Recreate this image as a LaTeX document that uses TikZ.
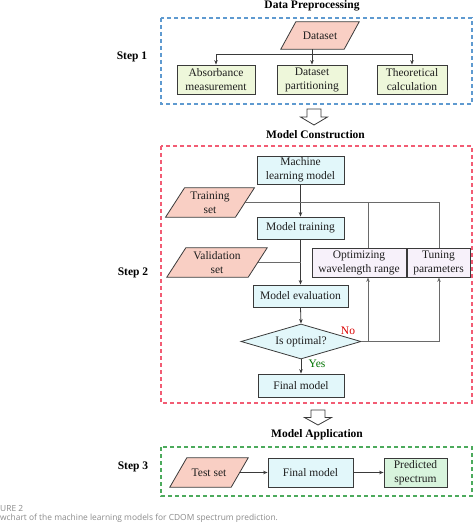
\documentclass[tikz,border=0pt]{standalone}
\usepackage{fontspec}
\setmainfont{Liberation Serif}
\newfontfamily\capfont{Open Sans}
\usetikzlibrary{shapes.geometric,backgrounds,arrows.meta}
\definecolor{linec}{HTML}{3A3A3A}
\definecolor{fbline}{HTML}{6A6A6A}
\definecolor{txt}{HTML}{1E1E1E}
\definecolor{dblue}{HTML}{5E9AD0}
\definecolor{dred}{HTML}{F25C74}
\definecolor{dgreen}{HTML}{4CAA5C}
\definecolor{fsalmon}{HTML}{F9CFC4}
\definecolor{fgreen}{HTML}{EEF7DA}
\definecolor{fcyan}{HTML}{E2F7FA}
\definecolor{flav}{HTML}{F7F1FA}
\definecolor{fmint}{HTML}{D8F4DD}
\definecolor{capgray}{HTML}{8A8A8A}
\newcommand\drawpara[3]{%
  \filldraw[fill=#3, draw=linec, line width=0.8pt]
    ([xshift=#2]#1.north west) -- ([xshift=#2]#1.north east) --
    ([xshift=-#2]#1.south east) -- ([xshift=-#2]#1.south west) -- cycle;}
\begin{document}
\begin{tikzpicture}[x=1pt,y=-1pt,
  font=\fontsize{11.5}{14}\selectfont,
  box/.style={draw=linec, line width=0.8pt, rectangle, inner sep=0pt, align=center, text=txt},
  paranode/.style={rectangle, inner sep=0pt, align=center, text=txt},
  title/.style={font=\fontsize{11.5}{14}\selectfont\bfseries, text=black},
  steplabel/.style={font=\fontsize{11.5}{14}\selectfont\bfseries, text=black},
  frame/.style={line width=1.2pt, dash pattern=on 4pt off 3pt},
  arr/.style={draw=linec, line width=0.8pt, -{Stealth[length=4.5pt,width=3.5pt]}},
  ln/.style={draw=linec, line width=0.8pt},
  fb/.style={draw=fbline, line width=0.8pt},
  fbarr/.style={draw=fbline, line width=0.8pt, -{Stealth[length=4.5pt,width=3.5pt]}},
  hollow/.style={draw=linec, line width=0.8pt, fill=white}
]
\useasboundingbox (0,0) rectangle (474,526);

% ---------- Step 1 ----------
\node[title] (t1) at (312,6) {Data Preprocessing};
\draw[frame, draw=dblue] (161,18) rectangle (472,104);
\node[steplabel] (s1) at (132,57) {Step 1};
\node[paranode, minimum width=63, minimum height=27] (ds) at (320,35.5) {Dataset};
\node[box, fill=fgreen, minimum width=78, minimum height=29] (abs) at (216,79.5) {Absorbance\\measurement};
\node[box, fill=fgreen, minimum width=70, minimum height=29] (part) at (312,79.5) {Dataset\\partitioning};
\node[box, fill=fgreen, minimum width=70, minimum height=29] (theo) at (412,79.5) {Theoretical\\calculation};
\begin{scope}[on background layer]
  \drawpara{ds}{7.5}{fsalmon}
\end{scope}
\coordinate (br) at (312,54);
\draw[ln] (br |- ds.south) -- (br);
\draw[arr] (br) -| (abs.north);
\draw[arr] (br) -- (part.north);
\draw[arr] (br) -| (theo.north);

% hollow arrow 1
\draw[hollow] (307,109) -- (321,109) -- (321,117) -- (327.5,117) -- (314,125) -- (300.5,117) -- (307,117) -- cycle;

% ---------- Step 2 ----------
\node[title] (t2) at (315.5,135) {Model Construction};
\draw[frame, draw=dred] (161,146) rectangle (472,403);
\node[steplabel] (s2) at (133,273) {Step 2};
\node[box, fill=fcyan, minimum width=87, minimum height=28] (ml) at (300.5,170) {Machine\\learning model};
\node[paranode, minimum width=69.5, minimum height=29] (trs) at (210,202.5) {Training\\set};
\node[box, fill=fcyan, minimum width=87, minimum height=22] (train) at (300.5,228) {Model training};
\node[paranode, minimum width=81, minimum height=29] (val) at (217,262.5) {Validation\\set};
\node[box, fill=flav, minimum width=94, minimum height=29] (opt) at (359,262.5) {Optimizing\\wavelength range};
\node[box, fill=flav, minimum width=63, minimum height=29] (tune) at (438.5,262.5) {Tuning\\parameters};
\node[box, fill=fcyan, minimum width=95, minimum height=22] (eval) at (300.5,296) {Model evaluation};
\node[draw=linec, line width=0.8pt, diamond, fill=fcyan, inner sep=0pt, aspect=3.43,
      minimum width=120, minimum height=35, text=txt] (dec) at (301,341.5) {Is optimal?};
\node[box, fill=fcyan, minimum width=86, minimum height=23] (fin) at (301,385.5) {Final model};
\begin{scope}[on background layer]
  \drawpara{trs}{9.5}{fsalmon}
  \drawpara{val}{9.5}{fsalmon}
\end{scope}
\node[text=red!85!black, anchor=center] (no) at (348,331) {No};
\node[text=green!45!black, anchor=center] (yes) at (317,363.5) {Yes};

\coordinate (jt) at (train.north |- trs.east);
\coordinate (jo) at (368,202.5);
\coordinate (jtu) at (439,202.5);
\coordinate (jd1) at (368,341.5);
\coordinate (jd2) at (439,341.5);
\draw[arr] (ml.south) -- (train.north);
\draw[fb] (trs.east) -- (jtu);
\draw[fb] (jo) -- (jo |- opt.north);
\draw[fb] (jtu) -- (jtu |- tune.north);
\draw[arr] (train.south) -- (eval.north);
\draw[fb] (val.east) -- (val.east -| train.south);
\draw[arr] (eval.south) -- (dec.north);
\draw[arr] (dec.south) -- (fin.north);
\draw[fb] (dec.east) -- (jd2);
\draw[fbarr] (jd1) -- (jd1 |- opt.south);
\draw[fbarr] (jd2) -- (jd2 |- tune.south);

% hollow arrow 2
\draw[hollow] (311,410) -- (325,410) -- (325,417.5) -- (331.5,417.5) -- (318,425) -- (304.5,417.5) -- (311,417.5) -- cycle;

% ---------- Step 3 ----------
\node[title] (t3) at (317,435) {Model Application};
\draw[frame, draw=dgreen] (161,447) rectangle (472,496);
\node[steplabel] (s3) at (133,467) {Step 3};
\node[paranode, minimum width=61, minimum height=29] (test) at (209,472.5) {Test set};
\node[box, fill=fcyan, minimum width=85, minimum height=29] (fm2) at (310.5,472.5) {Final model};
\node[box, fill=fmint, minimum width=63, minimum height=29] (pred) at (415.5,472.5) {Predicted\\spectrum};
\begin{scope}[on background layer]
  \drawpara{test}{8.5}{fsalmon}
\end{scope}
\draw[arr] (test.east) -- (fm2.west);
\draw[arr] (fm2.east) -- (pred.west);

% ---------- caption ----------
\node[anchor=west, inner sep=0pt, text=capgray, font=\capfont\fontsize{8.4}{10}\selectfont] (cap1) at (0,508) {URE 2};
\node[anchor=west, inner sep=0pt, text=capgray, font=\capfont\fontsize{8.4}{10}\selectfont] (cap2) at (0,518.5) {wchart of the machine learning models for CDOM spectrum prediction.};
\end{tikzpicture}
\end{document}
